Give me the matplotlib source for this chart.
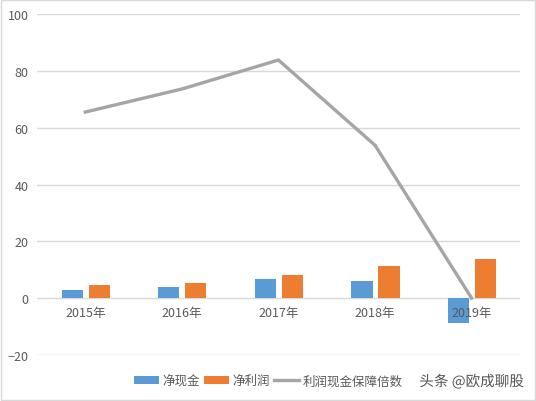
import numpy as np
import matplotlib.pyplot as plt
import matplotlib.patheffects as pe

plt.rcParams['font.family'] = ['Noto Sans CJK SC', 'DejaVu Sans']

years = ['2015年', '2016年', '2017年', '2018年', '2019年']
net_cash = [2.9, 3.9, 6.7, 6.0, -8.7]
net_profit = [4.6, 5.3, 8.1, 11.2, 13.7]
cover_ratio = [65.5, 73.6, 83.8, 53.8, 0.0]

fig = plt.figure(figsize=(5.36, 4.02), dpi=100)
ax = fig.add_axes([0.069, 0.1144, 0.901, 0.8483])

x = np.arange(len(years))
w = 0.22
b1 = ax.bar(x - 0.135, net_cash, w, color='#5B9BD5', label='净现金', zorder=2)
b2 = ax.bar(x + 0.145, net_profit, w, color='#ED7D31', label='净利润', zorder=2)
l1, = ax.plot(x, cover_ratio, color='#A5A5A5', lw=2.4, label='利润现金保障倍数', zorder=3,
              solid_joinstyle='miter')

ax.set_xlim(-0.5, len(years) - 0.5)
ax.set_ylim(-20, 100)
ax.set_yticks(range(-20, 101, 20))
ax.grid(axis='y', color='#D9D9D9', lw=1, zorder=0)
for s in ax.spines.values():
    s.set_visible(False)
ax.tick_params(length=0, labelsize=9, labelcolor='#595959', pad=6)
ax.set_xticks([])
for i, lab in enumerate(years):
    ax.text(i, -2.6, lab, ha='center', va='top', fontsize=9, color='#595959', zorder=4)

fig.legend([b1, b2, l1], ['净现金', '净利润', '利润现金保障倍数'],
           loc='center', bbox_to_anchor=(0.5, 0.05), ncol=3, frameon=False,
           fontsize=9, labelcolor='#595959', handlelength=2.0, handletextpad=0.3,
           columnspacing=0.3, handleheight=0.7)

fig.text(0.978, 0.048, '头条 @欧成聊股', ha='right', va='center', fontsize=10.5,
         color='#555555',
         path_effects=[pe.withStroke(linewidth=2, foreground='white')])

fig.patches.append(plt.Rectangle((0.002, 0.002), 0.996, 0.995, transform=fig.transFigure,
                                 fill=False, edgecolor='#D9D9D9', lw=1))

fig.savefig('out.png', dpi=100, facecolor='white')
